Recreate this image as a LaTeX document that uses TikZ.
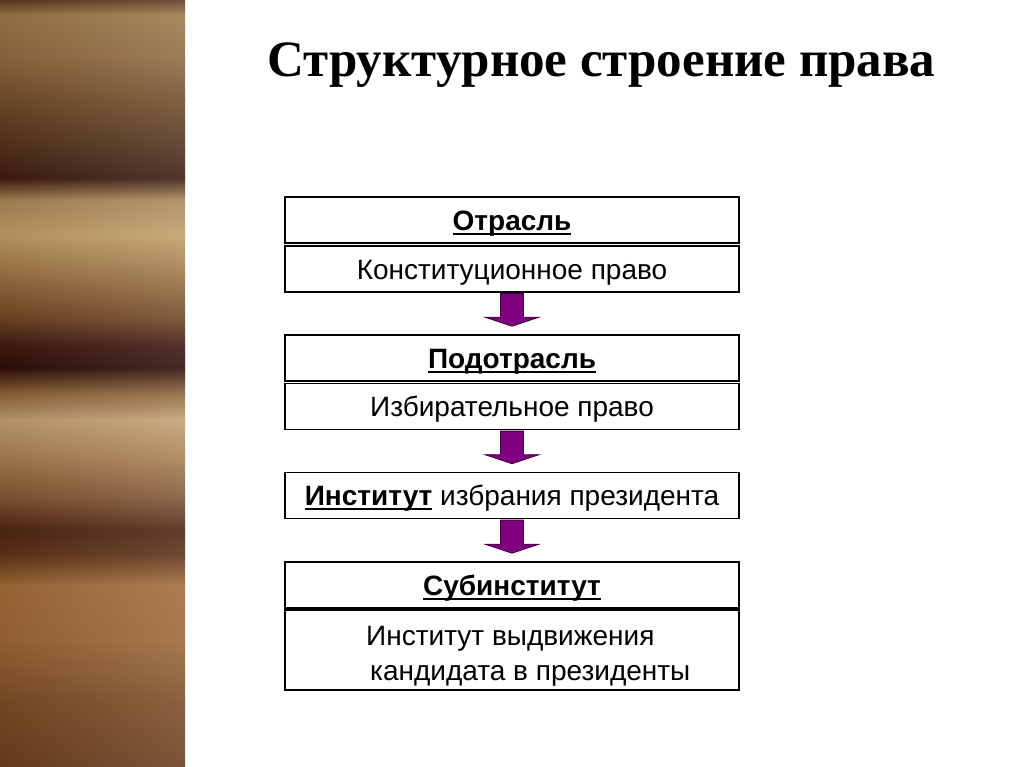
\documentclass[tikz,border=0pt]{standalone}
\usepackage{fontspec}
\setmainfont{Liberation Sans}
\newfontfamily\titlefont{Liberation Serif}
\usetikzlibrary{calc}
\newcommand{\ulb}[1]{\setbox0\hbox{\textbf{#1}}\rlap{\rule[-4.5pt]{\wd0}{2pt}}\box0\relax}
\definecolor{arrfill}{RGB}{128,0,128}
\definecolor{arredge}{RGB}{60,0,60}
\definecolor{stripdark}{HTML}{3A1E0C}
\begin{document}
\begin{tikzpicture}[x=1pt,y=-1pt,
  box/.style={draw=black, line width=1.6pt, fill=white, minimum width=454pt,
    minimum height=46pt, inner sep=0pt, text height=20pt, text depth=0pt,
    font=\fontsize{28}{34}\selectfont},
  blockarr/.style={fill=arrfill, draw=arredge, line width=0.8pt, line join=miter},
  txt/.style={inner sep=0pt, font=\fontsize{28}{34}\selectfont}]
\useasboundingbox (0,0) rectangle (1024,767);
\fill[white] (0,0) rectangle (1024,767);
% left decorative strip
\def\bandlist{0/5A3A20/15/9A7A48, 15/9A7A48/60/8C6A40, 60/8C6A40/100/6E4C2A,
  100/6E4C2A/150/4C2E1A, 150/4C2E1A/178/3A1A10, 178/3A1A10/200/A88858,
  200/A88858/235/C0A068, 235/C0A068/275/9C7444, 275/9C7444/320/6C4222,
  320/6C4222/345/3C1610, 345/3C1610/368/2A0C08, 368/2A0C08/392/8A6038,
  392/8A6038/420/C2A272, 420/C2A272/455/AA8252, 455/AA8252/500/7C5232,
  500/7C5232/530/4C2212, 530/4C2212/555/5C3218, 555/5C3218/585/A26C3A,
  585/A26C3A/640/9C6736, 640/9C6736/700/7C4C26, 700/7C4C26/767/6A3D1E}
\foreach \ya/\ca/\yb/\cb in \bandlist {
  \definecolor{ctop}{HTML}{\ca}\definecolor{cbot}{HTML}{\cb}
  \shade[top color=ctop, bottom color=cbot] (0,\ya) rectangle (185,\yb+0.5);
}
\shade[left color=stripdark, right color=stripdark!0!white, opacity=0.12] (0,0) rectangle (185,767);
% title
\node[inner sep=0pt, anchor=base, font=\titlefont\bfseries\fontsize{51}{60}\selectfont]
  (title) at (601.5,77) {Структурное строение права};
% boxes
\node[box] (b1) at (512,220) {\ulb{Отрасль}};
\node[box] (b2) at (512,269) {Конституционное право};
\node[box] (b3) at (512,358) {\ulb{Подотрасль}};
\node[box] (b4) at (512,406.5) {Избирательное право};
\node[box] (b5) at (512,495.5) {\ulb{Институт} избрания президента};
\node[box] (b6) at (512,585) {\ulb{Субинститут}};
\node[box, minimum height=80pt] (b7) at (512,650) {};
\node[txt, anchor=base west] (b7a) at (366,645) {Институт выдвижения};
\node[txt, anchor=base west] (b7b) at (370,680) {кандидата в президенты};
% block arrows
\foreach \s/\t in {b2/b3, b4/b5, b5/b6} {
  \path[blockarr] ($(\s.south)+(-11.5,0.8)$) -- ($(\s.south)+(11.5,0.8)$)
    -- ($(\t.north)+(11.5,-17)$) -- ($(\t.north)+(27,-17)$)
    -- ($(\t.north)+(0,-8)$) -- ($(\t.north)+(-27,-17)$)
    -- ($(\t.north)+(-11.5,-17)$) -- cycle;
}
\end{tikzpicture}
\end{document}
